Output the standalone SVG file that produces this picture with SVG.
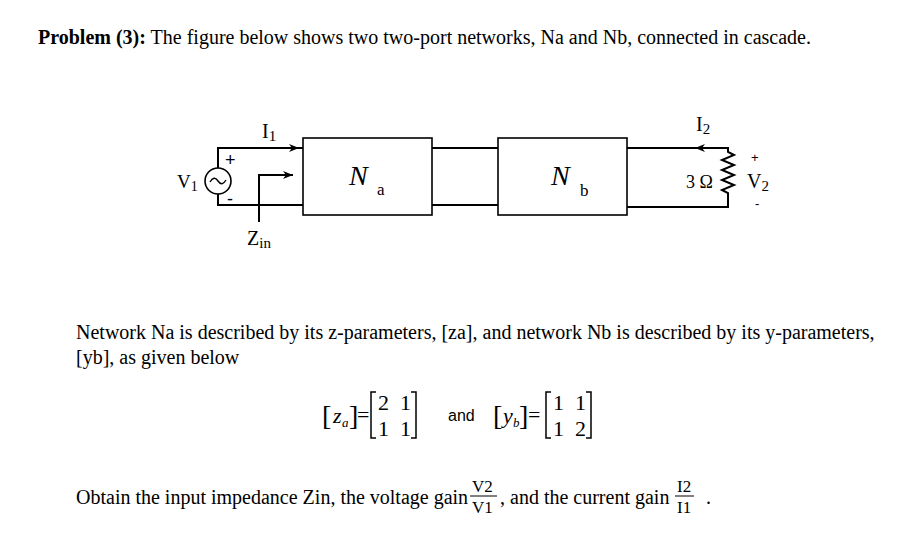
<svg xmlns="http://www.w3.org/2000/svg" width="924" height="533" viewBox="0 0 924 533">
<style>
.t{font-family:"Liberation Serif",serif;fill:#000}
.s{font-family:"Liberation Sans",sans-serif;fill:#000}
.w{stroke:#000;stroke-width:2;fill:none}
.b{stroke:#000;stroke-width:1.6;fill:#fff}
</style>
<defs><marker id="ar" viewBox="0 0 10 10" refX="10" refY="5" markerWidth="10" markerHeight="10" orient="auto" markerUnits="userSpaceOnUse"><path d="M0,1 L10,5 L0,9 L3,5 Z" fill="#000"/></marker></defs>
<rect width="924" height="533" fill="#fff"/>
<text class="t" x="38" y="44" font-size="20"><tspan font-weight="bold">Problem (3):</tspan>  The figure below shows two two-port networks, Na and Nb, connected in cascade.</text>
<g id="connectors">
<path class="w" d="M303,148 H218 V168 M218,194 V205 H303"/>
<path class="w" d="M432,148 H498 M432,205 H498"/>
<path class="w" d="M627,148 H728 V152 l6,3 -12,5 12,5 -12,5 12,5 -12,5 12,5 -12,5 6,3 V207 H627"/>
<path class="w" d="M260,148 H299" marker-end="url(#ar)"/>
<path class="w" d="M259,222 V175 H293" marker-end="url(#ar)"/>
<path class="w" d="M728,148 H695" marker-end="url(#ar)"/>
</g>
<g id="source">
<circle cx="218" cy="181" r="13" fill="#fff" stroke="#000" stroke-width="1.6"/>
<path d="M210,182 q4,-7 8,-1 q4,6 8,-1" fill="none" stroke="#000" stroke-width="1.4"/>
<text class="t" x="177" y="188" font-size="19">V<tspan font-size="14" dy="3">1</tspan></text>
<text class="s" x="225" y="166" font-size="18">+</text>
<text class="s" x="227" y="205" font-size="18">-</text>
<text class="t" x="262" y="138" font-size="20">I<tspan font-size="15" dy="3">1</tspan></text>
<text class="t" x="247" y="245" font-size="20">Z<tspan font-size="15" dy="3">in</tspan></text>
</g>
<g id="Na"><rect class="b" x="303" y="138" width="129" height="77"/>
<text class="t" x="349" y="185" font-size="28" font-style="italic">N</text><text class="t" x="377" y="195" font-size="17">a</text></g>
<g id="Nb"><rect class="b" x="498" y="138" width="129" height="77"/>
<text class="t" x="551" y="185" font-size="28" font-style="italic">N</text><text class="t" x="580" y="196" font-size="17">b</text></g>
<g id="load">
<text class="t" x="696" y="131" font-size="20">I<tspan font-size="15" dy="3">2</tspan></text>
<text class="t" x="686" y="188" font-size="18">3 Ω</text>
<text class="s" x="751" y="162" font-size="13">+</text>
<text class="t" x="747" y="188" font-size="20">V<tspan font-size="15" dy="3">2</tspan></text>
<text class="s" x="755" y="208" font-size="13">-</text>
</g>
<text class="t" x="76" y="339" font-size="20">Network Na is described by its z-parameters, [za], and network Nb is described by its y-parameters,</text>
<text class="t" x="76" y="364" font-size="20">[yb], as given below</text>
<g id="matrices" font-size="22">
<text class="t" x="322" y="425" font-size="28">[</text><text class="t" x="333" y="423" font-style="italic">z</text><text class="t" x="342" y="427" font-size="13" font-style="italic">a</text><text class="t" x="349" y="425" font-size="28">]</text><text class="t" x="357" y="422">=</text>
<path d="M376,392 h-5 v46 h5 M411,392 h5 v46 h-5" fill="none" stroke="#000" stroke-width="1.5"/>
<text class="t" x="378" y="410">2</text><text class="t" x="400" y="410">1</text>
<text class="t" x="378" y="436">1</text><text class="t" x="400" y="436">1</text>
<text class="s" x="448" y="421" font-size="16">and</text>
<text class="t" x="493" y="425" font-size="28">[</text><text class="t" x="503" y="423" font-style="italic">y</text><text class="t" x="513" y="427" font-size="13" font-style="italic">b</text><text class="t" x="519" y="425" font-size="28">]</text><text class="t" x="528" y="422">=</text>
<path d="M551,392 h-5 v46 h5 M586,392 h5 v46 h-5" fill="none" stroke="#000" stroke-width="1.5"/>
<text class="t" x="553" y="410">1</text><text class="t" x="575" y="410">1</text>
<text class="t" x="553" y="436">1</text><text class="t" x="575" y="436">2</text>
</g>
<g id="question">
<text class="t" x="76" y="504" font-size="20">Obtain the input impedance Zin, the voltage gain</text>
<text class="t" x="472" y="492" font-size="17">V2</text><line x1="470" y1="496" x2="497" y2="496" stroke="#000" stroke-width="1"/><text class="t" x="472" y="513" font-size="17">V1</text>
<text class="t" x="500" y="504" font-size="20">, and the current gain</text>
<text class="t" x="677" y="492" font-size="17">I2</text><line x1="675" y1="496" x2="694" y2="496" stroke="#000" stroke-width="1"/><text class="t" x="677" y="513" font-size="17">I1</text>
<text class="t" x="706" y="504" font-size="20">.</text>
</g>
</svg>
